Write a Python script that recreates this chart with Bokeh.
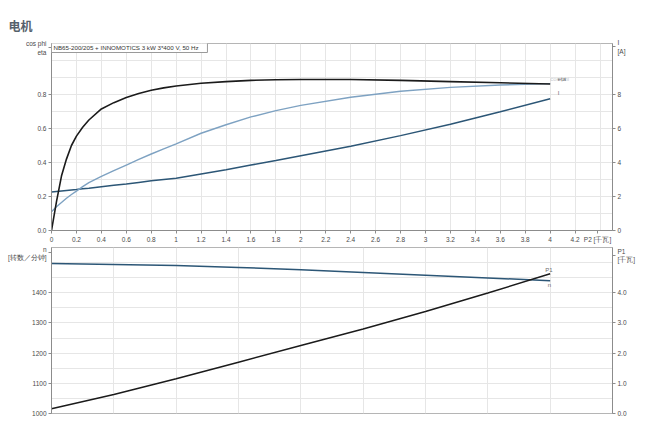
from bokeh.plotting import figure
from bokeh.models import Range1d, LinearAxis, FixedTicker, Label
from bokeh.layouts import column
from bokeh.embed import file_html
from bokeh.resources import INLINE

# --- motor curve data (shaft power P2 in kW) ---
p2 = [0, 0.04, 0.08, 0.12, 0.16, 0.2, 0.25, 0.3, 0.4, 0.5, 0.6, 0.7, 0.8, 0.9,
      1.0, 1.2, 1.4, 1.6, 1.8, 2.0, 2.4, 2.8, 3.2, 3.6, 4.0]
cos_phi = [0, 0.17, 0.32, 0.42, 0.50, 0.555, 0.607, 0.65, 0.715, 0.752, 0.782,
           0.806, 0.825, 0.839, 0.85, 0.866, 0.876, 0.883, 0.887, 0.888, 0.888,
           0.883, 0.876, 0.869, 0.862]
eta = [0.11, 0.14, 0.165, 0.19, 0.212, 0.232, 0.258, 0.282, 0.318, 0.352, 0.385,
       0.418, 0.45, 0.48, 0.51, 0.572, 0.622, 0.668, 0.705, 0.736, 0.784, 0.819,
       0.842, 0.856, 0.864]
current = [2.26, 2.29, 2.32, 2.35, 2.38, 2.41, 2.45, 2.49, 2.58, 2.66, 2.74,
           2.83, 2.92, 3.0, 3.08, 3.33, 3.58, 3.85, 4.12, 4.40, 4.95, 5.58, 6.25,
           6.98, 7.75]

p2_lower = [0, 0.5, 1.0, 1.5, 2.0, 2.5, 3.0, 3.5, 4.0]
speed = [1497, 1494, 1490, 1484, 1476, 1467, 1458, 1449, 1440]
p1 = [0.155, 0.63, 1.15, 1.70, 2.25, 2.80, 3.38, 3.99, 4.63]

x_ticks = [0, 0.2, 0.4, 0.6, 0.8, 1.0, 1.2, 1.4, 1.6, 1.8, 2.0, 2.2, 2.4, 2.6,
           2.8, 3.0, 3.2, 3.4, 3.6, 3.8, 4.0, 4.2]
pf_ticks = [0.0, 0.2, 0.4, 0.6, 0.8]
amp_ticks = [0, 2, 4, 6, 8]
speed_ticks = [1000, 1100, 1200, 1300, 1400]
p1_ticks = [0.0, 1.0, 2.0, 3.0, 4.0]

title_text = "电机"
info_text = "NB65-200/205 + INNOMOTICS   3 kW   3*400 V, 50 Hz"
# axis captions sit on the axes' tick label rows, at these values
cap_p2 = (4.38, "P2 [千瓦]")
cap_pf = (1.074, "cos phi\neta")
cap_amp = (10.8, "I\n[A]")
cap_speed = (1533, "n\n[转数／分钟]")
cap_p1 = (5.23, "P1\n[千瓦]")

FONT = "Liberation Sans"
TICK_SIZE = "6.5px"
GRID = "#e6e6e6"
AXIS = "#8c8c8c"
C_BLACK = "#1b1b1b"
C_LIGHT = "#7ea2c2"
C_DARK = "#2c5676"


def style_axis(ax):
    ax.axis_line_color = AXIS
    ax.major_tick_line_color = AXIS
    ax.minor_tick_line_color = None
    ax.major_tick_out = 3
    ax.major_tick_in = 0
    ax.major_label_standoff = 2
    ax.major_label_text_font = FONT
    ax.major_label_text_font_size = TICK_SIZE
    ax.major_label_text_color = "#4a4a4a"


def with_caption(ticks, cap, fmt):
    labels = {t: fmt.format(t) for t in ticks}
    labels[cap[0]] = cap[1]
    return FixedTicker(ticks=list(ticks) + [cap[0]]), labels


def text(p, x, y, t, size="6px", color="#6e6e6e", align="left",
         baseline="middle", units="data", **kw):
    p.add_layout(Label(x=x, y=y, text=t, x_units=units, y_units=units,
                       text_font=FONT, text_font_size=size, text_color=color,
                       text_align=align, text_baseline=baseline, **kw))


# ---------------- upper chart: cos phi, eta, current ----------------
top = figure(width=650, height=245, x_range=Range1d(0, 4.5), y_range=Range1d(0, 1.1),
             output_backend="svg", toolbar_location=None,
             min_border_left=51, min_border_right=38, min_border_top=43,
             min_border_bottom=13)
top.title.text = title_text
top.title.align = "left"
top.title.offset = -43
top.title.standoff = 20
top.title.text_font = "Noto Sans CJK SC"
top.title.text_font_size = "12px"
top.title.text_font_style = "bold"
top.title.text_color = "#56616b"

top.extra_y_ranges = {"amps": Range1d(0, 11)}
top.outline_line_color = "#b5b5b5"

tk, lab = with_caption(x_ticks, cap_p2, "{:g}")
top.xaxis.ticker = tk
top.xaxis.major_label_overrides = lab
tk, lab = with_caption(pf_ticks, cap_pf, "{:.1f}")
top.yaxis.ticker = tk
top.yaxis.major_label_overrides = lab
tk, lab = with_caption(amp_ticks, cap_amp, "{:g}")
right_ax = LinearAxis(y_range_name="amps", ticker=tk, major_label_overrides=lab)
top.add_layout(right_ax, "right")
for ax in [top.xaxis[0], top.yaxis[0], right_ax]:
    style_axis(ax)

top.xgrid.ticker = FixedTicker(ticks=[round(0.2 * i, 1) for i in range(23)])
top.ygrid.ticker = FixedTicker(ticks=[round(0.1 * i, 1) for i in range(12)])
top.xgrid.grid_line_color = GRID
top.ygrid.grid_line_color = GRID

top.line(p2, current, y_range_name="amps", line_color=C_DARK, line_width=1.5)
top.line(p2, eta, line_color=C_LIGHT, line_width=1.4)
top.line(p2, cos_phi, line_color=C_BLACK, line_width=1.6)

# curve names at the line ends
text(top, p2[-1], cos_phi[-1] + 0.03, "cos phi", color="#c8ccd0")
text(top, p2[-1] + 0.06, cos_phi[-1] + 0.03, "eta")
text(top, p2[-1] + 0.06, current[-1] / 10 + 0.035, "I")

# model information box in the top-left corner of the frame
text(top, 0, 189, info_text, size="6.2px", color="#333333", baseline="top",
     units="screen", border_line_color="#9a9a9a", background_fill_color="white",
     padding=2)

# ---------------- lower chart: speed and input power ----------------
bot = figure(width=650, height=190, x_range=Range1d(0, 4.5),
             y_range=Range1d(1000, 1550),
             output_backend="svg", toolbar_location=None,
             min_border_left=51, min_border_right=38, min_border_top=2,
             min_border_bottom=22)
bot.extra_y_ranges = {"kw": Range1d(0, 5.5)}
bot.outline_line_color = "#b5b5b5"
bot.xaxis.visible = False
tk, lab = with_caption(speed_ticks, cap_speed, "{:d}")
bot.yaxis.ticker = tk
bot.yaxis.major_label_overrides = lab
tk, lab = with_caption(p1_ticks, cap_p1, "{:.1f}")
kw_ax = LinearAxis(y_range_name="kw", ticker=tk, major_label_overrides=lab)
bot.add_layout(kw_ax, "right")
for ax in [bot.yaxis[0], kw_ax]:
    style_axis(ax)

bot.xgrid.ticker = FixedTicker(ticks=[0.5 * i for i in range(10)])
bot.ygrid.ticker = FixedTicker(ticks=[1000 + 50 * i for i in range(12)])
bot.xgrid.grid_line_color = GRID
bot.ygrid.grid_line_color = GRID

bot.line(p2_lower, speed, line_color=C_DARK, line_width=1.5)
bot.line(p2_lower, p1, y_range_name="kw", line_color=C_BLACK, line_width=1.5)

text(bot, p2_lower[-1] - 0.04, 1000 + 100 * p1[-1] + 13, "P1")
text(bot, p2_lower[-1] - 0.02, speed[-1] - 15, "n")

layout = column(top, bot, spacing=0)
open("out.html", "w").write(file_html(layout, INLINE))
